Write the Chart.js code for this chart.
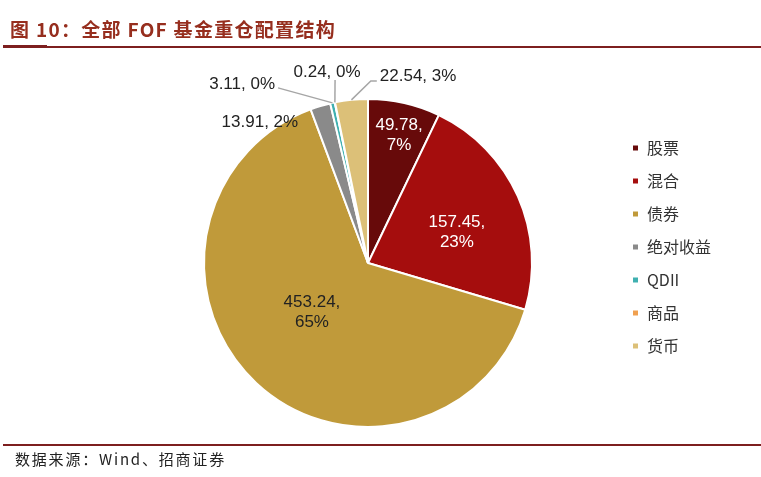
<!DOCTYPE html>
<html>
<head>
<meta charset="utf-8">
<script src="https://cdn.jsdelivr.net/npm/chart.js@4.4.1/dist/chart.umd.min.js"></script>
<style>
    body { margin: 0; background: #fff; width: 761px; height: 477px; overflow: hidden; position: relative; font-family: "Noto Sans CJK SC", sans-serif; }
    #title { position: absolute; left: 10px; top: 16px; font-size: 19px; font-weight: bold; color: #962e1e; letter-spacing: 1.3px; white-space: nowrap; line-height: 26px; }
    .rule { position: absolute; left: 3px; right: 0; height: 2px; background: #7d1f1f; }
    #source { position: absolute; left: 15px; top: 449px; font-size: 15px; color: #222; letter-spacing: 1.8px; white-space: nowrap; line-height: 20px; }
    #wrap { position: absolute; left: 0; top: 0; width: 761px; height: 477px; }
</style>
</head>
<body>
<div id="wrap"><canvas id="fofChart"></canvas></div>
<div id="title">图 10：全部 FOF 基金重仓配置结构</div>
<div class="rule" style="top:46px"></div>
<div class="rule" style="top:45px;left:3px;right:auto;width:44px;height:3px"></div>
<div class="rule" style="top:444px"></div>
<div id="source">数据来源：Wind、招商证券</div>

<script>
const categories = ['股票', '混合', '债券', '绝对收益', 'QDII', '商品', '货币'];
const holdings = [49.78, 157.45, 453.24, 13.91, 3.11, 0.24, 22.54];
const sliceColors = ['#670a0a', '#a50d0d', '#c09a3a', '#8a8a8a', '#3fb0b0', '#f0a050', '#dcc078'];

// where each value label sits: r = fraction of radius, a = angle in degrees (clockwise from 3 o'clock)
const labelSpots = [
    { r: 0.80, a: -76.3, wrap: true, color: '#fff' },
    { r: 0.574, a: -19.2, wrap: true, color: '#fff' },
    { r: 0.454, a: 138.8, wrap: true, color: '#222' },
    { r: 1.083, a: -127.5, color: '#222' },
    { r: 1.335, a: -125.1, color: '#222', leader: 'right' },
    { r: 1.191, a: -102.1, color: '#222', leader: 'bottom' },
    { r: 1.18, a: -75.0, color: '#222', leader: 'left' }
];

// whole percents that add up to 100 (largest remainder), like the source chart
function roundedShares(values) {
    const total = values.reduce((s, v) => s + v, 0);
    const raw = values.map(v => v / total * 100);
    const out = raw.map(Math.floor);
    let left = 100 - out.reduce((s, v) => s + v, 0);
    raw.map((v, i) => ({ i, rem: v - Math.floor(v) }))
        .sort((a, b) => b.rem - a.rem)
        .slice(0, left)
        .forEach(o => { out[o.i] += 1; });
    return out;
}

const sliceLabels = {
    id: 'sliceLabels',
    afterDatasetsDraw(chart) {
        const ctx = chart.ctx;
        const meta = chart.getDatasetMeta(0);
        const shares = roundedShares(holdings);
        ctx.save();
        ctx.font = '17px "Liberation Sans", Arial, sans-serif';
        ctx.textAlign = 'center';
        ctx.textBaseline = 'middle';
        meta.data.forEach((arc, i) => {
            const spot = labelSpots[i];
            const p = arc.getProps(['x', 'y', 'outerRadius', 'startAngle', 'endAngle'], true);
            const ang = spot.a * Math.PI / 180;
            const lx = p.x + Math.cos(ang) * p.outerRadius * spot.r;
            const ly = p.y + Math.sin(ang) * p.outerRadius * spot.r;
            const lines = spot.wrap
                ? [holdings[i].toFixed(2) + ',', shares[i] + '%']
                : [holdings[i].toFixed(2) + ', ' + shares[i] + '%'];
            const w = Math.max(...lines.map(t => ctx.measureText(t).width));

            if (spot.leader) {
                const mid = (p.startAngle + p.endAngle) / 2;
                const ex = p.x + Math.cos(mid) * p.outerRadius;
                const ey = p.y + Math.sin(mid) * p.outerRadius;
                ctx.strokeStyle = '#a6a6a6';
                ctx.lineWidth = 1.5;
                ctx.beginPath();
                if (spot.leader === 'right') {
                    ctx.moveTo(lx + w / 2 + 3, ly + 4);
                } else if (spot.leader === 'bottom') {
                    ctx.moveTo(lx + 8, ly + 8);
                } else {
                    ctx.moveTo(lx - w / 2 - 3, ly + 5);
                    ctx.lineTo(lx - w / 2 - 9, ly + 5);
                }
                ctx.lineTo(ex, ey);
                ctx.stroke();
            }

            ctx.fillStyle = spot.color;
            const lh = 20;
            lines.forEach((t, k) => {
                ctx.fillText(t, lx, ly + (k - (lines.length - 1) / 2) * lh);
            });
        });
        ctx.restore();
    }
};

new Chart(document.getElementById('fofChart'), {
    type: 'pie',
    data: {
        labels: categories,
        datasets: [{
            data: holdings,
            backgroundColor: sliceColors,
            borderColor: '#fff',
            borderWidth: 2
        }]
    },
    options: {
        responsive: true,
        maintainAspectRatio: false,
        animation: false,
        layout: {
            padding: { top: 98, bottom: 49, left: 121, right: 40 }
        },
        plugins: {
            legend: {
                position: 'right',
                align: 'start',
                title: { display: true, text: '', padding: { top: 13, bottom: 0 }, font: { size: 10 } },
                labels: {
                    boxWidth: 7,
                    boxHeight: 7,
                    padding: 17,
                    color: '#333',
                    font: { family: '"Noto Sans CJK SC", sans-serif', size: 16 }
                }
            },
            tooltip: { enabled: false }
        }
    },
    plugins: [sliceLabels]
});
</script>
</body>
</html>
